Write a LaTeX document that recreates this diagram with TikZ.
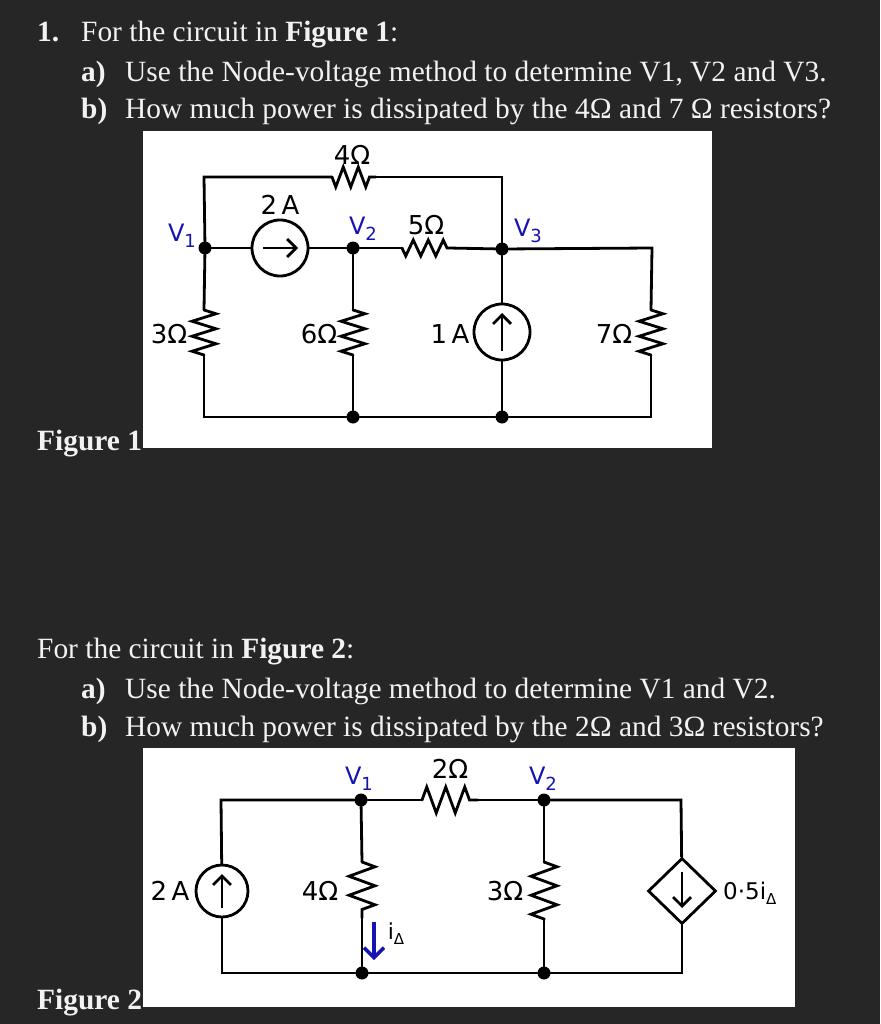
\documentclass[tikz,border=0pt]{standalone}
\usepackage{fontspec}
\setmainfont{Liberation Serif}
\newfontfamily\handfont{DejaVu Sans}
\usetikzlibrary{shapes.geometric,decorations.pathmorphing,arrows.meta}
\definecolor{bgdark}{HTML}{262626}
\definecolor{textlight}{HTML}{F2F2F2}
\definecolor{nodeblue}{HTML}{1414B4}
\tikzset{
  doc/.style={anchor=base west,inner sep=0pt,text=textlight,font=\fontsize{29.4}{31}\selectfont},
  docb/.style={doc,font=\fontsize{29.4}{31}\selectfont\bfseries},
  panel/.style={fill=white,draw=none},
  wire/.style={line width=2.8pt,line join=miter,line cap=round},
  junction/.style={circle,fill=black,inner sep=0pt,minimum size=13pt},
  source/.style={circle,draw=black,line width=2.8pt,fill=white,inner sep=0pt},
  depsource/.style={diamond,aspect=1,draw=black,line width=2.8pt,fill=white,inner sep=0pt,minimum width=68pt,minimum height=66pt},
  res/.style={wire,decorate,decoration={zigzag,segment length=#1}},
  res/.default=15pt,
  lab/.style={inner sep=0pt,text=black,font=\handfont\fontsize{26}{28}\selectfont},
  vlab/.style={inner sep=0pt,text=nodeblue,font=\handfont\fontsize{24}{26}\selectfont},
  arr/.style={line width=2.8pt,-{Straight Barb[length=9pt,width=18pt,line width=2.8pt]}},
  blue arrow/.style={line width=3.4pt,draw=nodeblue,-{Straight Barb[length=10pt,width=20pt,line width=3.4pt]}}
}
\newcommand{\subb}[1]{\raisebox{-6pt}{\fontsize{18}{18}\selectfont #1}}
\begin{document}
\begin{tikzpicture}[x=1pt,y=-1pt]
\fill[bgdark] (0,0) rectangle (880,1024);
\useasboundingbox (0,0) rectangle (880,1024);

% text
\node[docb] (n1) at (37,42) {1.};
\node[doc] (t1) at (81,42) {For the circuit in \textbf{Figure 1}:};
\node[docb] (a1) at (81,82) {a)};
\node[doc] (ta1) at (125,82) {Use the Node-voltage method to determine V1, V2 and V3.};
\node[docb] (b1) at (81,119) {b)};
\node[doc] (tb1) at (125,119) {How much power is dissipated by the 4Ω and 7 Ω resistors?};
\node[docb] (f1) at (37,450) {Figure 1};
\node[doc] (t2) at (37,658) {For the circuit in \textbf{Figure 2}:};
\node[docb] (a2) at (81,698) {a)};
\node[doc] (ta2) at (125,698) {Use the Node-voltage method to determine V1 and V2.};
\node[docb] (b2) at (81,736) {b)};
\node[doc] (tb2) at (125,736) {How much power is dissipated by the 2Ω and 3Ω resistors?};
\node[docb] (f2) at (37,1009) {Figure 2};

% panels
\fill[panel] (143,131) rectangle (712,448);
\fill[panel] (143,748) rectangle (795,1007);

% ---------- Figure 1
\coordinate (tl) at (204,177);
\coordinate (tr) at (502,177);
\coordinate (r4a) at (332,177);
\coordinate (r4b) at (376,177);
\node[junction] (v1) at (205,248) {};
\node[junction] (v2) at (353,248) {};
\node[junction] (v3) at (502,249) {};
\node[source,minimum size=56pt] (cs2) at (280,248) {};
\node[source,minimum size=56pt] (cs1) at (502,332) {};
\coordinate (r5a) at (402,248);
\coordinate (r5b) at (448,248);
\coordinate (rt) at (652,248);
\coordinate (r3a) at (204,310);
\coordinate (r3b) at (204,355);
\coordinate (r6a) at (353,310);
\coordinate (r6b) at (353,355);
\coordinate (r7a) at (651,310);
\coordinate (r7b) at (651,355);
\coordinate (bl) at (204,417);
\node[junction] (g2) at (353,417) {};
\node[junction] (g3) at (502,417) {};
\coordinate (br) at (651,417);

\draw[wire] (v1) -- (tl) -- (r4a);
\draw[res,decoration={amplitude=10pt,mirror}] (r4a) -- (r4b);
\draw[wire] (r4b) -- (tr) -- (v3);
\draw[wire] (v1) -- (cs2);
\draw[wire] (cs2) -- (v2);
\draw[wire] (v2) -- (r5a);
\draw[res,decoration={amplitude=8pt,mirror}] (r5a) -- (r5b);
\draw[wire] (r5b) -- (v3);
\draw[wire] (v3) -- (rt) -- (r7a);
\draw[wire] (v1) -- (r3a);
\draw[res,decoration={amplitude=12pt}] (r3a) -- (r3b);
\draw[wire] (r3b) -- (bl) -- (g2);
\draw[wire] (v2) -- (r6a);
\draw[res,decoration={amplitude=12pt}] (r6a) -- (r6b);
\draw[wire] (r6b) -- (g2);
\draw[wire] (g2) -- (g3);
\draw[wire] (v3) -- (cs1);
\draw[wire] (cs1) -- (g3);
\draw[wire] (g3) -- (br) -- (r7b);
\draw[res,decoration={amplitude=12pt}] (r7a) -- (r7b);

\coordinate (a2s) at (263,248);
\coordinate (a2e) at (298,248);
\draw[arr] (a2s) -- (a2e);
\coordinate (a1s) at (502,351);
\coordinate (a1e) at (502,313);
\draw[arr] (a1s) -- (a1e);

\node[lab] (l4) at (352,155) {4Ω};
\node[lab] (l2a) at (280,205) {2\,A};
\node[lab] (l5) at (426,225) {5Ω};
\node[lab] (l3) at (169,334) {3Ω};
\node[lab] (l6) at (319,334) {6Ω};
\node[lab] (l1a) at (450,334) {1\,A};
\node[lab] (l7) at (614,334) {7Ω};
\node[vlab] (lv1) at (182,236) {V\subb{1}};
\node[vlab] (lv2) at (363,229) {V\subb{2}};
\node[vlab] (lv3) at (528,231) {V\subb{3}};

% ---------- Figure 2
\coordinate (Ftl) at (221,800);
\node[junction] (Fv1) at (361,800) {};
\coordinate (Fr2a) at (422,800);
\coordinate (Fr2b) at (478,800);
\node[junction] (Fv2) at (544,800) {};
\coordinate (Ftr) at (681,800);
\node[source,minimum size=52pt] (Fcs) at (222,891) {};
\node[depsource] (Fdep) at (682,891) {};
\coordinate (Fr4a) at (362,862);
\coordinate (Fr4b) at (362,918);
\coordinate (Fr3a) at (544,862);
\coordinate (Fr3b) at (544,920);
\coordinate (Fbl) at (222,973);
\node[junction] (Fg1) at (362,973) {};
\node[junction] (Fg2) at (544,973) {};
\coordinate (Fbr) at (682,973);

\draw[wire] (Fcs) -- (Ftl) -- (Fv1);
\draw[wire] (Fv1) -- (Fr2a);
\draw[res=19pt,decoration={amplitude=13pt}] (Fr2a) -- (Fr2b);
\draw[wire] (Fr2b) -- (Fv2);
\draw[wire] (Fv2) -- (Ftr) -- (Fdep);
\draw[wire] (Fv1) -- (Fr4a);
\draw[res=19pt,decoration={amplitude=13pt}] (Fr4a) -- (Fr4b);
\draw[wire] (Fr4b) -- (Fg1);
\draw[wire] (Fv2) -- (Fr3a);
\draw[res=19pt,decoration={amplitude=13pt}] (Fr3a) -- (Fr3b);
\draw[wire] (Fr3b) -- (Fg2);
\draw[wire] (Fcs) -- (Fbl) -- (Fg1);
\draw[wire] (Fg1) -- (Fg2);
\draw[wire] (Fg2) -- (Fbr) -- (Fdep);

\coordinate (Fa1s) at (222,908);
\coordinate (Fa1e) at (222,874);
\draw[arr] (Fa1s) -- (Fa1e);
\coordinate (Fa2s) at (682,872);
\coordinate (Fa2e) at (682,908);
\draw[arr] (Fa2s) -- (Fa2e);
\coordinate (Fa3s) at (374,922);
\coordinate (Fa3e) at (374,960);
\draw[blue arrow] (Fa3s) -- (Fa3e);

\node[lab] (Fl2) at (450,769) {2Ω};
\node[lab] (Fl2a) at (170,891) {2\,A};
\node[lab] (Fl4) at (320,891) {4Ω};
\node[lab] (Fl3) at (505,891) {3Ω};
\node[lab,anchor=west] (Fl05) at (723,893) {\fontsize{23}{25}\selectfont 0·5i\raisebox{-5pt}{\fontsize{15}{15}\selectfont Δ}};
\node[lab] (Fli) at (396,934) {\fontsize{22}{24}\selectfont i\raisebox{-5pt}{\fontsize{15}{15}\selectfont Δ}};
\node[vlab] (Flv1) at (359,779) {V\subb{1}};
\node[vlab] (Flv2) at (543,779) {V\subb{2}};
\end{tikzpicture}
\end{document}
